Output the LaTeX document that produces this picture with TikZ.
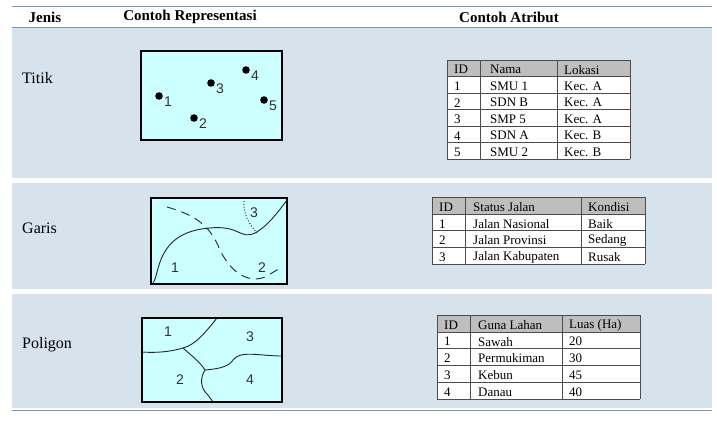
\documentclass[tikz,border=0pt]{standalone}
\usepackage{fontspec}
\setmainfont{Liberation Serif}
\newfontfamily\figsans{Liberation Sans}
\definecolor{rowbg}{RGB}{214,226,236}
\definecolor{mapfill}{RGB}{204,255,255}
\definecolor{hdrfill}{RGB}{190,190,190}
\definecolor{rule}{RGB}{120,150,190}
\definecolor{lbl}{RGB}{50,50,50}
\tikzset{
  mapbox/.style={draw=black,line width=1.6pt,fill=mapfill},
  num/.style={font=\figsans\fontsize{14}{14}\selectfont,text=lbl,inner sep=0pt},
  cell/.style={font=\fontsize{13}{13}\selectfont,anchor=west,inner sep=0pt,yshift=-1.5pt},
  rowlabel/.style={font=\fontsize{16}{16}\selectfont,anchor=west,inner sep=0pt},
  hdr/.style={font=\bfseries\fontsize{15}{15}\selectfont,inner sep=0pt},
  tline/.style={draw=black!70,line width=0.5pt},
  feat/.style={line width=0.9pt,black!85}
}
\begin{document}
\begin{tikzpicture}[x=1pt,y=-1pt]
\useasboundingbox (0,0) rectangle (717,421);
\fill[white] (0,0) rectangle (717,421);
% row backgrounds
\fill[rowbg] (12,28) rectangle (712,178);
\fill[rowbg] (12,183) rectangle (712,289);
\fill[rowbg] (12,294) rectangle (712,408);
\draw[rule,line width=1pt] (12,6) -- (712,6);
\draw[rule,line width=1pt] (12,27) -- (712,27);
\draw[rule,line width=1pt] (12,410) -- (712,410);
% headers
\node[hdr] (h1) at (45,17) {Jenis};
\node[hdr] (h2) at (190,17) {Contoh Representasi};
\node[hdr] (h3) at (509,17) {Contoh Atribut};
\node[rowlabel] (r1) at (22,78) {Titik};
\node[rowlabel] (r2) at (22,228) {Garis};
\node[rowlabel] (r3) at (22,345) {Poligon};
% --- Titik map
\draw[mapbox] (141,51) rectangle (282,140);
\foreach \x/\y/\n in {159/96/1,194/118/2,211/83/3,246/70/4,264/100/5}{
  \fill (\x,\y) circle (3.8);
  \node[num] at (\x+9,\y+6) {\n};
}
% --- Garis map
\draw[mapbox] (151,198) rectangle (287,284);
\begin{scope}
\clip (151,198) rectangle (287,284);
\draw[feat] (153,283) .. controls (160,275) and (155,232) .. (210,228)
  .. controls (240,225) and (240,240) .. (255,233) .. controls (268,226) and (278,212) .. (287,200);
\draw[feat,dash pattern=on 9pt off 6pt] (167,207) .. controls (195,215) and (210,225) .. (220,250)
  .. controls (232,275) and (250,283) .. (265,277) -- (282,267);
\draw[feat,dotted,line width=1pt] (244,201) .. controls (243,215) and (250,225) .. (257,233);
\end{scope}
\node[num] at (175,268) {1};
\node[num] at (262,268) {2};
\node[num] at (254,213) {3};
% --- Poligon map
\draw[mapbox] (142,318) rectangle (282,402);
\begin{scope}
\clip (142,318) rectangle (282,402);
\draw[feat] (217,318) .. controls (205,333) and (195,345) .. (183,348) .. controls (170,352) and (155,353) .. (142,352);
\draw[feat] (183,348) .. controls (192,356) and (200,362) .. (205,370) .. controls (200,378) and (200,388) .. (208,395) -- (213,402);
\draw[feat] (205,370) .. controls (215,369) and (228,368) .. (233,360) .. controls (240,350) and (260,356) .. (282,356);
\end{scope}
\node[num] at (168,332) {1};
\node[num] at (250,337) {3};
\node[num] at (180,380) {2};
\node[num] at (250,380) {4};
% --- Table 1
\fill[white] (447,60) rectangle (630,159);
\fill[hdrfill] (447,60) rectangle (630,76.5);
\foreach \y in {60,76.5,93,109.5,126,142.5,159} \draw[tline] (447,\y) -- (630,\y);
\foreach \x in {447,480,557,630} \draw[tline] (\x,60) -- (\x,159);
\foreach \a/\b/\c [count=\i from 0] in {ID/Nama/Lokasi,1/SMU 1/Kec. A,2/SDN B/Kec. A,3/SMP 5/Kec. A,4/SDN A/Kec. B,5/SMU 2/Kec. B}{
  \node[cell] at (454,68.25+16.5*\i) {\a};
  \node[cell] at (490,68.25+16.5*\i) {\b};
  \node[cell] at (564,68.25+16.5*\i) {\c};
}
% --- Table 2
\fill[white] (432,197) rectangle (645,264);
\fill[hdrfill] (432,197) rectangle (645,214);
\foreach \y in {197,214,230.5,247,264} \draw[tline] (432,\y) -- (645,\y);
\foreach \x in {432,465,581,645} \draw[tline] (\x,197) -- (\x,264);
\foreach \a/\b/\c [count=\i from 0] in {ID/Status Jalan/Kondisi,1/Jalan Nasional/Baik,2/Jalan Provinsi/Sedang,3/Jalan Kabupaten/Rusak}{
  \node[cell] at (439,205.5+16.75*\i) {\a};
  \node[cell] at (473,205.5+16.75*\i) {\b};
  \node[cell] at (588,205.5+16.75*\i) {\c};
}
% --- Table 3
\fill[white] (437,315) rectangle (640,399);
\fill[hdrfill] (437,315) rectangle (640,331.8);
\foreach \i in {0,...,5} \draw[tline] (437,315+16.8*\i) -- (640,315+16.8*\i);
\foreach \x in {437,470,562,640} \draw[tline] (\x,315) -- (\x,399);
\foreach \a/\b/\c [count=\i from 0] in {ID/Guna Lahan/Luas (Ha),1/Sawah/20,2/Permukiman/30,3/Kebun/45,4/Danau/40}{
  \node[cell] at (444,323.4+16.8*\i) {\a};
  \node[cell] at (478,323.4+16.8*\i) {\b};
  \node[cell] at (569,323.4+16.8*\i) {\c};
}
\end{tikzpicture}
\end{document}
